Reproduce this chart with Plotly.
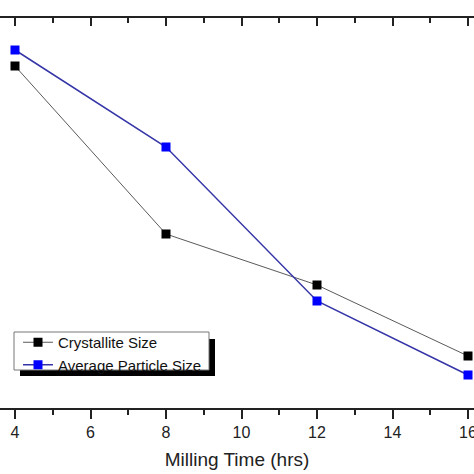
import plotly.graph_objects as go

# milling time (hrs) and sizes (arbitrary units, y axis is cropped out of the picture)
milling_time = [4, 8, 12, 16]
crystallite_size = [342, 174, 123, 52]
particle_size = [358, 261, 107, 33]
major_ticks = [4, 6, 8, 10, 12, 14, 16]
minor_ticks = [5, 7, 9, 11, 13, 15]

W, H = 474, 474
top, bottom = 18, 408          # plot area in pixels
ph = bottom - top
xr = [4 - 15 / 37.75, 16 + 6 / 37.75]

fig = go.Figure()
fig.add_trace(go.Scatter(x=milling_time, y=crystallite_size, mode="lines+markers",
                         name="Crystallite Size",
                         line=dict(color="#5a5a5a", width=1),
                         marker=dict(symbol="square", size=9, color="black")))
fig.add_trace(go.Scatter(x=milling_time, y=particle_size, mode="lines+markers",
                         name="Average Particle Size",
                         line=dict(color="#3535a8", width=1.5),
                         marker=dict(symbol="square", size=9, color="#0000ff")))
# empty trace so the top axis gets drawn
fig.add_trace(go.Scatter(x=milling_time, y=crystallite_size, xaxis="x2", mode="none",
                         showlegend=False, hoverinfo="skip"))


def px_x(p):
  return p / W


def px_y(p):
  return (bottom - p) / ph


# legend box with a drop shadow
fig.add_shape(type="rect", xref="paper", yref="paper",
              x0=px_x(20), x1=px_x(215), y0=px_y(376), y1=px_y(339),
              fillcolor="black", line=dict(width=0))
fig.add_shape(type="rect", xref="paper", yref="paper",
              x0=px_x(14), x1=px_x(209), y0=px_y(370), y1=px_y(332),
              fillcolor="white", line=dict(color="#777777", width=1))

fig.update_layout(
  width=W, height=H,
  margin=dict(l=0, r=0, t=top, b=H - bottom, autoexpand=False),
  paper_bgcolor="white", plot_bgcolor="white",
  font=dict(family="Liberation Sans, Arial", color="#222222"),
  showlegend=True,
  legend=dict(x=px_x(18), y=px_y(326), xanchor="left", yanchor="top",
              bgcolor="rgba(0,0,0,0)", borderwidth=0,
              font=dict(size=15, color="#111111"),
              tracegroupgap=0, itemwidth=30),
  xaxis=dict(range=xr, tickvals=major_ticks,
             showline=True, linecolor="#222222", linewidth=2,
             ticks="outside", ticklen=9, tickwidth=1.5, tickcolor="#222222",
             minor=dict(tickvals=minor_ticks, ticks="outside",
                        ticklen=5, tickwidth=1.5, tickcolor="#222222"),
             showgrid=False, zeroline=False,
             tickfont=dict(size=16), ticklabeloverflow="allow",
             title=dict(text="Milling Time (hrs)", font=dict(size=19), standoff=12),
             automargin=False),
  xaxis2=dict(range=xr, overlaying="x", side="top",
              tickvals=major_ticks, showticklabels=False,
              showline=True, linecolor="#222222", linewidth=2,
              ticks="inside", ticklen=8, tickwidth=1.5, tickcolor="#222222",
              minor=dict(tickvals=minor_ticks, ticks="inside",
                         ticklen=5, tickwidth=1.5, tickcolor="#222222"),
              showgrid=False, zeroline=False, automargin=False),
  yaxis=dict(range=[0, ph], showticklabels=False, showline=False,
             showgrid=False, zeroline=False, ticks=""),
)

# drop the default body margin so the figure sits at the window's corner
fig.write_html("out.html", config={"displayModeBar": False},
               post_script="document.body.style.margin='0';")
